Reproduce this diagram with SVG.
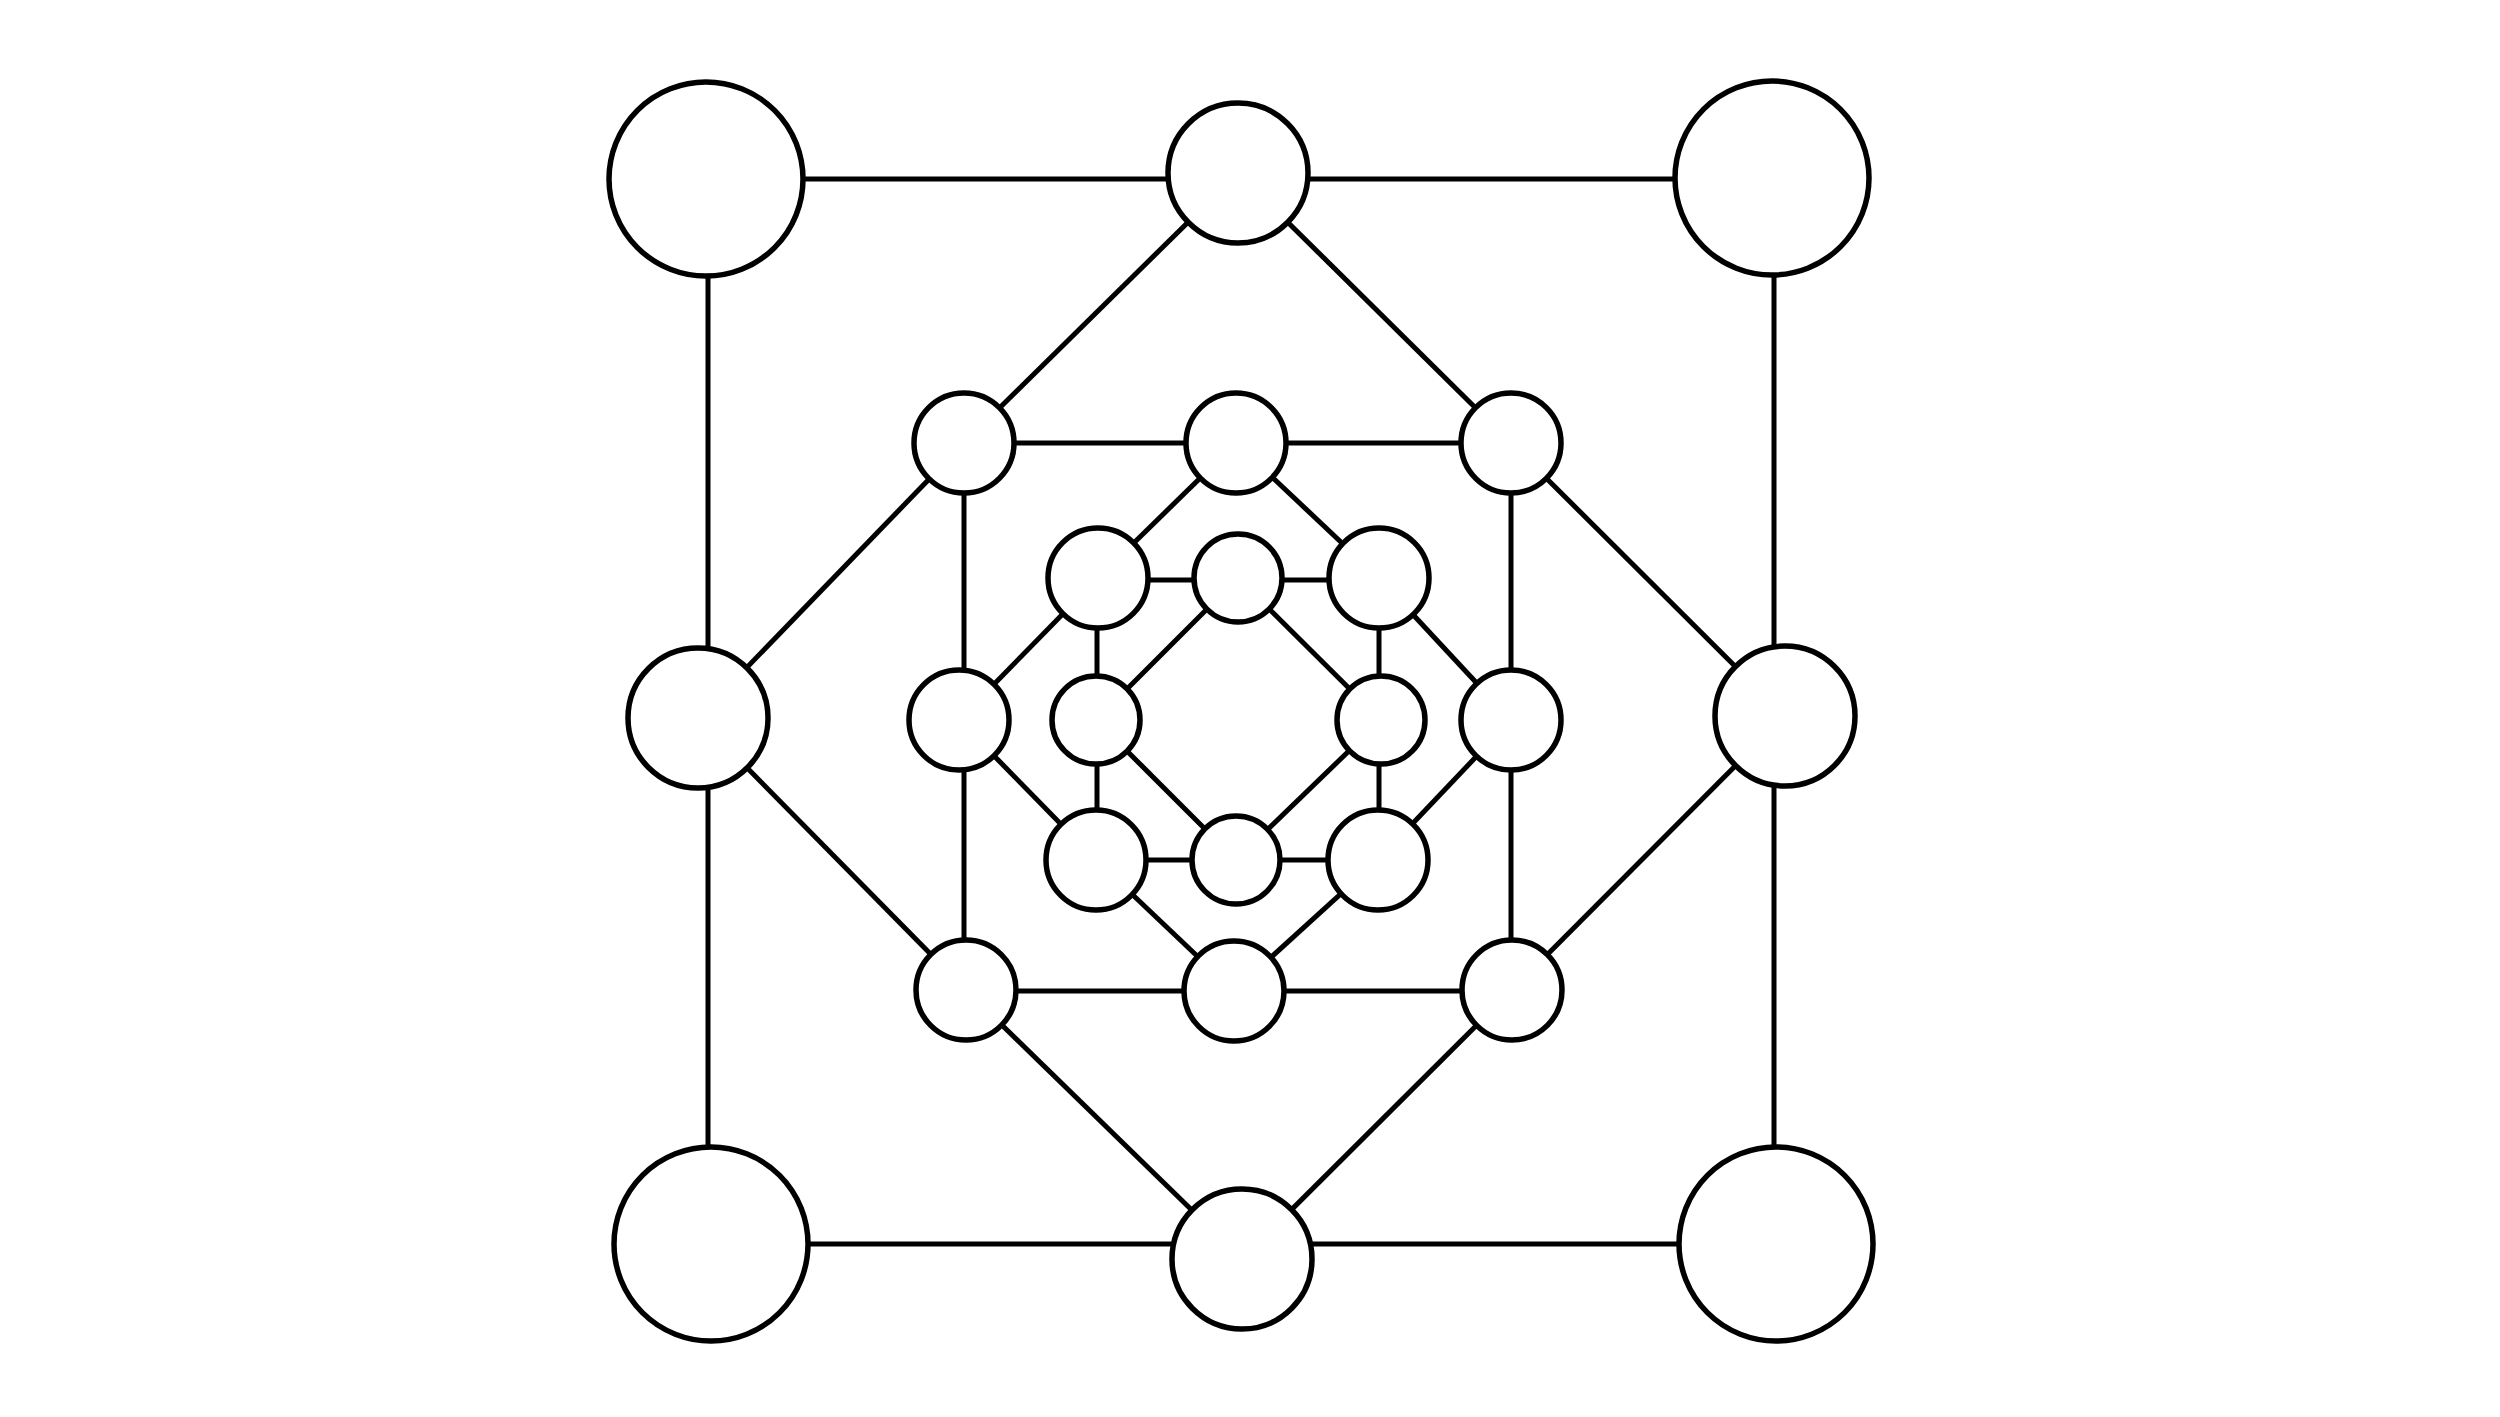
<svg xmlns="http://www.w3.org/2000/svg" width="2500" height="1417" viewBox="0 0 2500 1417">
<style>
.n{fill:#fff;stroke:#000;stroke-width:5.5}
.e line{stroke:#000;stroke-width:5;fill:none}
</style>
<rect width="2500" height="1417" fill="#fff"/>
<g class="e" id="connectors">
<line x1="706" y1="179" x2="1772" y2="179"/>
<line x1="710" y1="1244" x2="1776" y2="1244"/>
<line x1="708" y1="179" x2="708" y2="1244"/>
<line x1="1774" y1="178" x2="1774" y2="1244"/>
<line x1="1238" y1="173" x2="964" y2="443"/>
<line x1="1238" y1="173" x2="1511" y2="443"/>
<line x1="698" y1="718" x2="964" y2="443"/>
<line x1="698" y1="718" x2="966" y2="990"/>
<line x1="1785" y1="716" x2="1511" y2="443"/>
<line x1="1785" y1="716" x2="1512" y2="990"/>
<line x1="1242" y1="1259" x2="966" y2="990"/>
<line x1="1242" y1="1259" x2="1512" y2="990"/>
<line x1="964" y1="443" x2="1511" y2="443"/>
<line x1="966" y1="991" x2="1512" y2="991"/>
<line x1="964" y1="443" x2="964" y2="990"/>
<line x1="1511" y1="443" x2="1511" y2="990"/>
<line x1="1236" y1="443" x2="1098" y2="578"/>
<line x1="1236" y1="443" x2="1379" y2="578"/>
<line x1="959" y1="720" x2="1098" y2="578"/>
<line x1="959" y1="720" x2="1096" y2="860"/>
<line x1="1511" y1="720" x2="1379" y2="578"/>
<line x1="1511" y1="720" x2="1378" y2="860"/>
<line x1="1234" y1="991" x2="1096" y2="860"/>
<line x1="1234" y1="991" x2="1378" y2="860"/>
<line x1="1098" y1="580" x2="1379" y2="580"/>
<line x1="1096" y1="860" x2="1378" y2="860"/>
<line x1="1097" y1="578" x2="1097" y2="860"/>
<line x1="1379" y1="578" x2="1379" y2="860"/>
<line x1="1238" y1="578" x2="1096" y2="720"/>
<line x1="1238" y1="578" x2="1381" y2="720"/>
<line x1="1236" y1="860" x2="1096" y2="720"/>
<line x1="1236" y1="860" x2="1381" y2="720"/>
</g>
<g id="oTL"><circle class="n" cx="706" cy="179" r="97"/></g>
<g id="oTM"><circle class="n" cx="1238" cy="173" r="70"/></g>
<g id="oTR"><circle class="n" cx="1772" cy="178" r="97"/></g>
<g id="oML"><circle class="n" cx="698" cy="718" r="70"/></g>
<g id="oMR"><circle class="n" cx="1785" cy="716" r="70"/></g>
<g id="oBL"><circle class="n" cx="711" cy="1244" r="97"/></g>
<g id="oBM"><circle class="n" cx="1242" cy="1259" r="70"/></g>
<g id="oBR"><circle class="n" cx="1776" cy="1244" r="97"/></g>
<g id="mTL"><circle class="n" cx="964" cy="443" r="50"/></g>
<g id="mTC"><circle class="n" cx="1236" cy="443" r="50"/></g>
<g id="mTR"><circle class="n" cx="1511" cy="443" r="50"/></g>
<g id="mML"><circle class="n" cx="959" cy="720" r="50"/></g>
<g id="mMR"><circle class="n" cx="1511" cy="720" r="50"/></g>
<g id="mBL"><circle class="n" cx="966" cy="990" r="50"/></g>
<g id="mBC"><circle class="n" cx="1234" cy="991" r="50"/></g>
<g id="mBR"><circle class="n" cx="1512" cy="990" r="50"/></g>
<g id="iTL"><circle class="n" cx="1098" cy="578" r="50"/></g>
<g id="iTC"><circle class="n" cx="1238" cy="578" r="44"/></g>
<g id="iTR"><circle class="n" cx="1379" cy="578" r="50"/></g>
<g id="iML"><circle class="n" cx="1096" cy="720" r="44"/></g>
<g id="iMR"><circle class="n" cx="1381" cy="720" r="44"/></g>
<g id="iBL"><circle class="n" cx="1096" cy="860" r="50"/></g>
<g id="iBC"><circle class="n" cx="1236" cy="860" r="44"/></g>
<g id="iBR"><circle class="n" cx="1378" cy="860" r="50"/></g>
</svg>
